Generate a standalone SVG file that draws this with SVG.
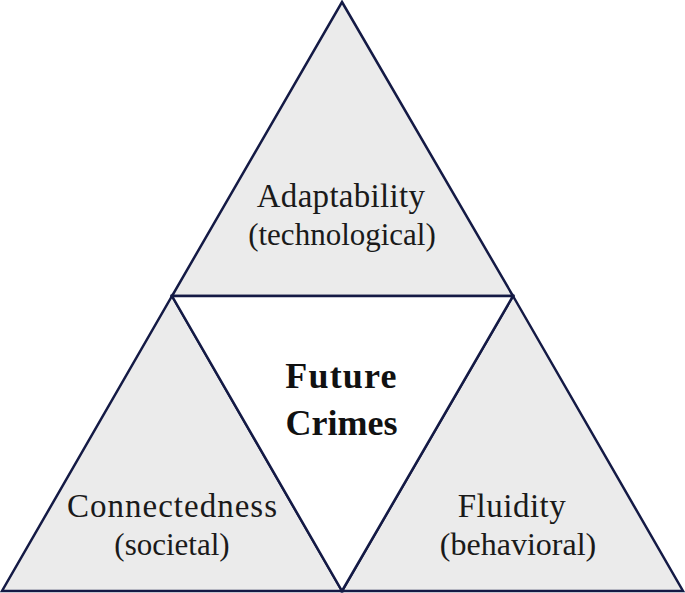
<svg xmlns="http://www.w3.org/2000/svg" width="685" height="593" viewBox="0 0 685 593">
<style>
.tri{fill:#ebebeb;stroke:#141a45;stroke-width:2.5;stroke-linejoin:miter}
.mid{fill:#ffffff;stroke:#141a45;stroke-width:2.5}
.lbl{font-family:"Liberation Serif","Times New Roman",serif;font-size:33px;fill:#1a1a1a;text-anchor:middle}
.sub{font-family:"Liberation Serif","Times New Roman",serif;font-size:31px;fill:#1a1a1a;text-anchor:middle}
.bold{font-family:"Liberation Serif","Times New Roman",serif;font-size:36px;font-weight:bold;fill:#111111;text-anchor:middle}
</style>
<rect width="685" height="593" fill="#ffffff"/>
<g id="top">
<polygon class="tri" points="342,2 513,296 172,296"/>
<text class="lbl" x="341" y="207" letter-spacing="0.3">Adaptability</text>
<text class="sub" x="342" y="245">(technological)</text>
</g>
<g id="left">
<polygon class="tri" points="172,296 342,591 2,591"/>
<text class="lbl" x="172.5" y="517" letter-spacing="1">Connectedness</text>
<text class="sub" x="172" y="555">(societal)</text>
</g>
<g id="right">
<polygon class="tri" points="513,296 683,591 342,591"/>
<text class="lbl" x="512" y="517" letter-spacing="0.5">Fluidity</text>
<text class="sub" x="518" y="555" style="font-size:32px">(behavioral)</text>
</g>
<g id="center">
<polygon class="mid" points="172,296 513,296 342,591"/>
<text class="bold" x="341.5" y="388" letter-spacing="1.2">Future</text>
<text class="bold" x="341.5" y="435">Crimes</text>
</g>
<g id="connectors"></g>
</svg>
